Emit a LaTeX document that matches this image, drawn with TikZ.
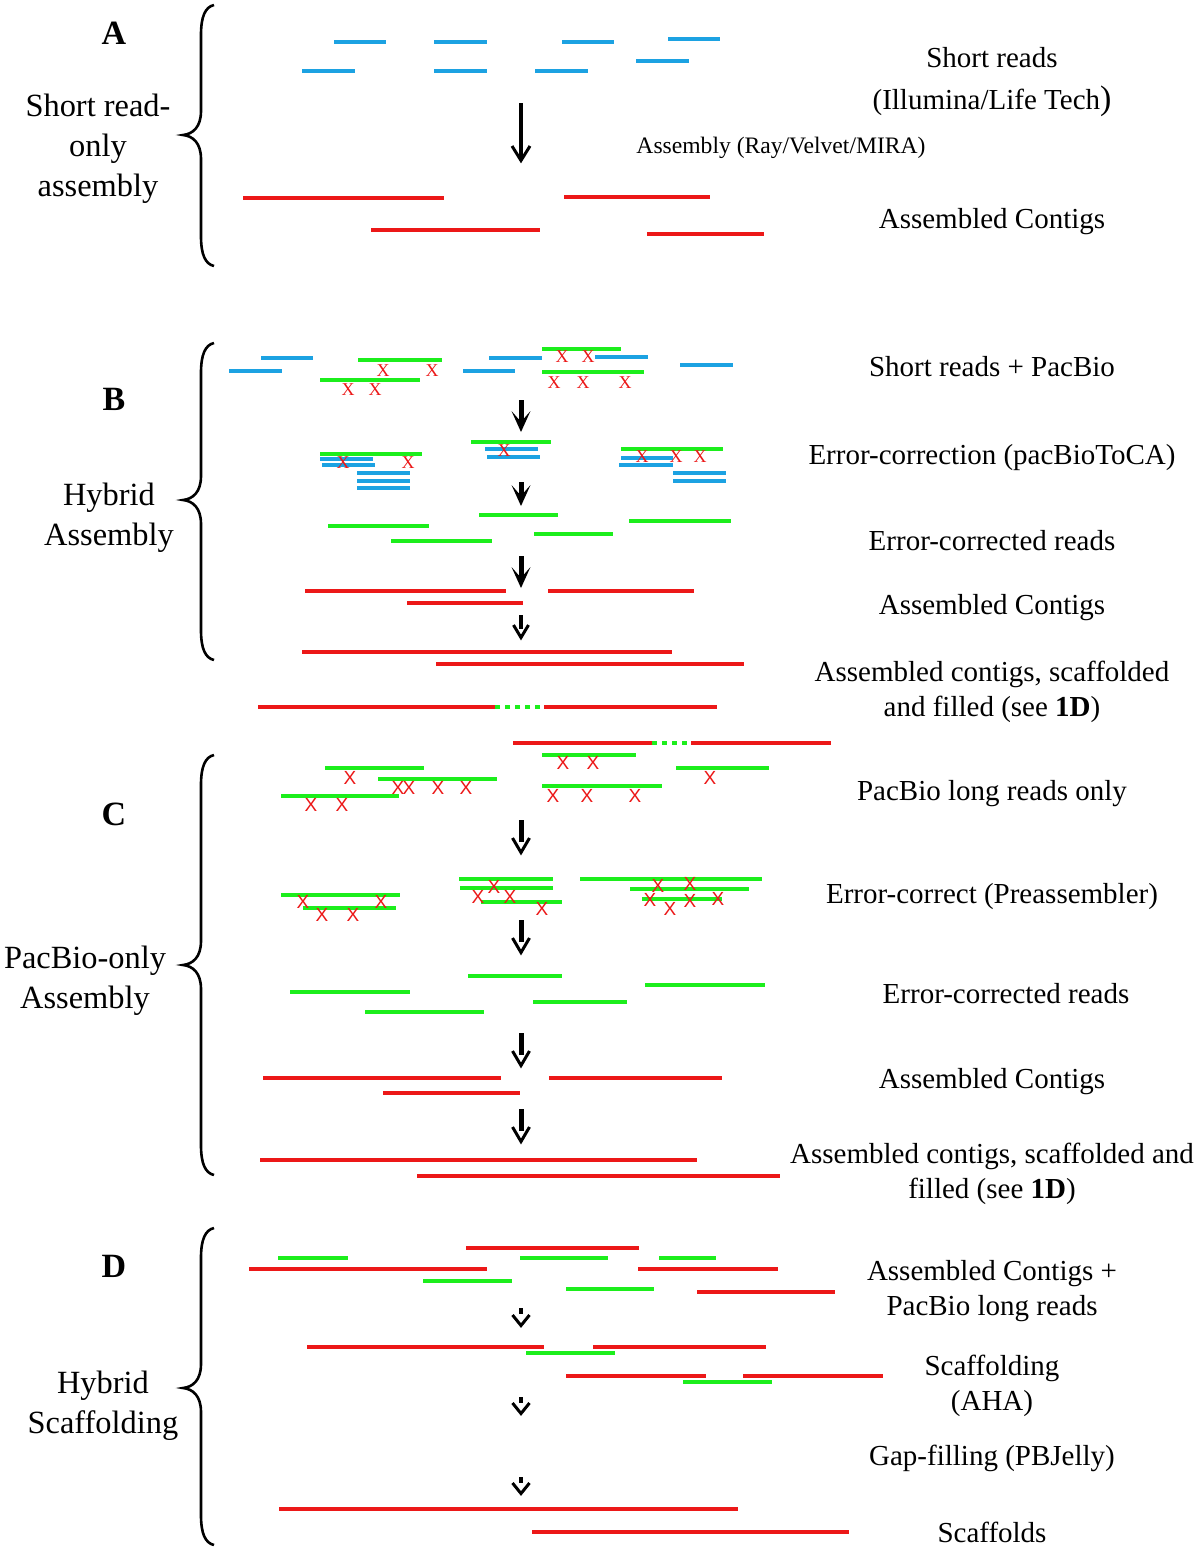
\documentclass[tikz,border=0pt]{standalone}
\usepackage{fontspec}
\setmainfont{Liberation Serif}
\setsansfont{Liberation Sans}
\definecolor{myred}{RGB}{236,24,24}
\definecolor{mygreen}{RGB}{28,238,28}
\definecolor{myblue}{RGB}{28,162,226}
\tikzset{
  rd/.style={draw=myred, line width=2pt},
  gr/.style={draw=mygreen, line width=2pt},
  bl/.style={draw=myblue, line width=2.2pt},
  grdot/.style={draw=mygreen, line width=2pt, dash pattern=on 2.5pt off 2.5pt},
  arrline/.style={draw=black, line width=1.5pt, line join=miter},
  bracestyle/.style={draw=black, line width=1.3pt},
  rtext/.style={font=\fontsize{14.5}{17}\selectfont, anchor=base, inner sep=0pt},
  ltext/.style={font=\fontsize{16.2}{19}\selectfont, anchor=base, inner sep=0pt},
  lettertext/.style={font=\fontsize{17}{20}\selectfont\bfseries, anchor=base, inner sep=0pt},
  smalltext/.style={font=\fontsize{11.8}{13}\selectfont, anchor=base, inner sep=0pt},
  xserif/.style={text=myred, font=\fontsize{9}{9}\selectfont, inner sep=0pt},
  xsans/.style={text=myred, font=\sffamily\fontsize{9.5}{10}\selectfont, inner sep=0pt}
}
\newcommand{\seg}[4]{\draw[#1] (#2,#4) -- (#3,#4);}
\newcommand{\xser}[2]{\node[xserif] (xr-#1-#2) at (#1,#2) {X};}
\newcommand{\xsan}[2]{\node[xsans] (xs-#1-#2) at (#1,#2) {X};}
\newcommand{\openV}[4]{\draw[arrline] (#1-#3,#2-#4) -- (#1,#2-2.5) -- (#1+#3,#2-#4);}
\newcommand{\shaft}[4]{\draw[line width=#4] (#1,#2) -- (#1,#3);}
\newcommand{\boldarrow}[3]{%
  \draw[line width=2.5pt] (#1,#2) -- (#1,#3-12);
  \fill (#1-9.5,#3-21) -- (#1,#3) -- (#1+9.5,#3-21) -- (#1+2.5,#3-13) -- (#1-2.5,#3-13) -- cycle;}
\newcommand{\mybrace}[3]{\draw[bracestyle] (214,#1) .. controls (205,#1+2) and (201,#1+12) .. (201,#1+30) -- (201,#2-24) .. controls (201,#2-8) and (193,#2-1) .. (183,#2) .. controls (193,#2+1) and (201,#2+8) .. (201,#2+24) -- (201,#3-30) .. controls (201,#3-12) and (205,#3-2) .. (214,#3);}
\begin{document}
\begin{tikzpicture}[x=0.5pt,y=-0.5pt]
\useasboundingbox (0,0) rectangle (1200,1548);
\fill[white] (0,0) rectangle (1200,1548);

% ---------------- Section A ----------------
\mybrace{5}{135}{266}
\node[lettertext] (lA) at (114,44) {A};
\node[ltext] (lA1) at (98,116) {Short read-};
\node[ltext] (lA2) at (98,156) {only};
\node[ltext] (lA3) at (98,196) {assembly};

\seg{bl}{334}{386}{42} \seg{bl}{434}{487}{42} \seg{bl}{562}{614}{42} \seg{bl}{668}{720}{39}
\seg{bl}{302}{355}{71} \seg{bl}{434}{487}{71} \seg{bl}{535}{588}{71} \seg{bl}{636}{689}{61}
\seg{rd}{243}{444}{198} \seg{rd}{564}{710}{197} \seg{rd}{371}{540}{230} \seg{rd}{647}{764}{234}

\shaft{521}{103}{158}{2pt}
\openV{521}{163}{9}{17}

\node[rtext] (tA1) at (992,67) {Short reads};
\node[rtext] (tA2) at (992,109) {(Illumina/Life Tech{\fontsize{17}{17}\selectfont )}};
\node[smalltext] (tA3) at (781,153) {Assembly (Ray/Velvet/MIRA)};
\node[rtext] (tA4) at (992,228) {Assembled Contigs};

% ---------------- Section B ----------------
\mybrace{343}{500}{660}
\node[lettertext] (lB) at (114,410) {B};
\node[ltext] (lB1) at (109,505) {Hybrid};
\node[ltext] (lB2) at (109,545) {Assembly};

\seg{bl}{261}{313}{358} \seg{bl}{229}{282}{371} \seg{bl}{489}{542}{358} \seg{bl}{463}{515}{371}
\seg{bl}{595}{648}{357} \seg{bl}{680}{733}{365}
\seg{gr}{358}{442}{360} \seg{gr}{320}{420}{380} \seg{gr}{542}{621}{349} \seg{gr}{542}{644}{372}
\xser{383}{371} \xser{432}{371} \xser{348}{390} \xser{375}{390}
\xser{562}{357} \xser{588}{357} \xser{554}{383} \xser{583}{383} \xser{625}{383}

\boldarrow{521}{400}{432}

\seg{gr}{320}{422}{454} \seg{gr}{471}{551}{442} \seg{gr}{621}{723}{449}
\seg{bl}{320}{373}{459} \seg{bl}{322}{375}{465}
\seg{bl}{357}{410}{473} \seg{bl}{357}{410}{481} \seg{bl}{357}{410}{488}
\seg{bl}{485}{538}{449} \seg{bl}{487}{540}{457}
\seg{bl}{621}{673}{458} \seg{bl}{619}{673}{465} \seg{bl}{673}{726}{473} \seg{bl}{673}{726}{481}
\xser{343}{463} \xser{408}{463} \xser{504}{451} \xser{642}{457} \xser{676}{457} \xser{700}{457}

\boldarrow{521}{482}{506}

\seg{gr}{479}{558}{515} \seg{gr}{328}{429}{526} \seg{gr}{391}{492}{541} \seg{gr}{534}{613}{534} \seg{gr}{629}{731}{521}

\boldarrow{521}{556}{588}

\seg{rd}{305}{506}{591} \seg{rd}{548}{694}{591} \seg{rd}{407}{523}{603}

\shaft{521}{615}{629}{1.8pt}
\openV{521}{640}{7.5}{15}

\seg{rd}{302}{672}{652} \seg{rd}{436}{744}{664}
\seg{rd}{258}{495}{707} \seg{grdot}{495}{544}{707} \seg{rd}{544}{717}{707}
\seg{rd}{513}{652}{743} \seg{grdot}{652}{691}{743} \seg{rd}{691}{831}{743}

\node[rtext] (tB1) at (992,376) {Short reads + PacBio};
\node[rtext] (tB2) at (992,464) {Error-correction (pacBioToCA)};
\node[rtext] (tB3) at (992,550) {Error-corrected reads};
\node[rtext] (tB4) at (992,614) {Assembled Contigs};
\node[rtext] (tB5) at (992,681) {Assembled contigs, scaffolded};
\node[rtext] (tB6) at (992,716) {and filled (see \textbf{1D})};

% ---------------- Section C ----------------
\mybrace{755}{965}{1175}
\node[lettertext] (lC) at (114,825) {C};
\node[ltext] (lC1) at (85,968) {PacBio-only};
\node[ltext] (lC2) at (85,1008) {Assembly};

\seg{gr}{325}{424}{768} \seg{gr}{378}{497}{779} \seg{gr}{281}{399}{796}
\seg{gr}{542}{636}{755} \seg{gr}{542}{662}{786} \seg{gr}{676}{769}{768}
\xsan{350}{778} \xsan{398}{788} \xsan{409}{788} \xsan{438}{788} \xsan{466}{788}
\xsan{311}{805} \xsan{342}{805}
\xsan{563}{763} \xsan{593}{763} \xsan{553}{796} \xsan{587}{796} \xsan{635}{796} \xsan{710}{778}

\shaft{521}{820}{842}{2.5pt}
\openV{521}{855}{8.5}{17}

\seg{gr}{281}{400}{895} \seg{gr}{303}{396}{908}
\seg{gr}{459}{553}{879} \seg{gr}{460}{553}{888} \seg{gr}{481}{562}{902}
\seg{gr}{580}{762}{879} \seg{gr}{630}{749}{889} \seg{gr}{642}{722}{899}
\xsan{303}{902} \xsan{381}{902} \xsan{322}{915} \xsan{353}{915}
\xsan{494}{887} \xsan{478}{897} \xsan{510}{897} \xsan{542}{909}
\xsan{658}{886} \xsan{690}{884} \xsan{650}{900} \xsan{690}{901} \xsan{718}{899} \xsan{670}{909}

\shaft{521}{920}{942}{2.5pt}
\openV{521}{955}{8.5}{17}

\seg{gr}{468}{562}{976} \seg{gr}{290}{410}{992} \seg{gr}{365}{484}{1012} \seg{gr}{533}{627}{1002} \seg{gr}{645}{765}{985}

\shaft{521}{1033}{1055}{2.5pt}
\openV{521}{1068}{8.5}{17}

\seg{rd}{263}{501}{1078} \seg{rd}{549}{722}{1078} \seg{rd}{383}{520}{1093}

\shaft{521}{1109}{1131}{2.5pt}
\openV{521}{1144}{8.5}{17}

\seg{rd}{260}{697}{1160} \seg{rd}{417}{780}{1176}

\node[rtext] (tC1) at (992,800) {PacBio long reads only};
\node[rtext] (tC2) at (992,903) {Error-correct (Preassembler)};
\node[rtext] (tC3) at (1006,1003) {Error-corrected reads};
\node[rtext] (tC4) at (992,1088) {Assembled Contigs};
\node[rtext] (tC5) at (992,1163) {Assembled contigs, scaffolded and};
\node[rtext] (tC6) at (992,1198) {filled (see \textbf{1D})};

% ---------------- Section D ----------------
\mybrace{1228}{1388}{1545}
\node[lettertext] (lD) at (114,1277) {D};
\node[ltext] (lD1) at (103,1393) {Hybrid};
\node[ltext] (lD2) at (103,1433) {Scaffolding};

\seg{rd}{466}{639}{1248} \seg{rd}{249}{487}{1269} \seg{rd}{638}{778}{1269} \seg{rd}{697}{835}{1292}
\seg{gr}{278}{348}{1258} \seg{gr}{520}{608}{1258} \seg{gr}{659}{716}{1258}
\seg{gr}{423}{512}{1281} \seg{gr}{566}{654}{1289}

\shaft{521}{1308}{1314}{2pt}
\openV{521}{1328}{8.5}{13}

\seg{rd}{307}{544}{1347} \seg{rd}{593}{766}{1347} \seg{gr}{526}{615}{1353}
\seg{rd}{566}{706}{1376} \seg{rd}{743}{883}{1376} \seg{gr}{683}{772}{1382}

\shaft{521}{1397}{1403}{2pt}
\openV{521}{1416}{8.5}{13}

\shaft{521}{1477}{1483}{2pt}
\openV{521}{1496}{8.5}{13}

\seg{rd}{279}{738}{1509} \seg{rd}{532}{849}{1532}

\node[rtext] (tD1) at (992,1280) {Assembled Contigs +};
\node[rtext] (tD2) at (992,1315) {PacBio long reads};
\node[rtext] (tD3) at (992,1375) {Scaffolding};
\node[rtext] (tD4) at (992,1410) {(AHA)};
\node[rtext] (tD5) at (992,1465) {Gap-filling (PBJelly)};
\node[rtext] (tD6) at (992,1542) {Scaffolds};
\end{tikzpicture}
\end{document}
